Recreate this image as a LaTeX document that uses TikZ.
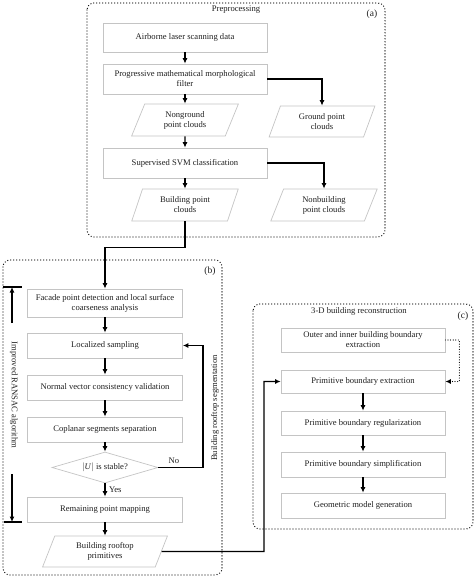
\documentclass[tikz,border=0pt]{standalone}
\usepackage{fontspec}
\setmainfont{Liberation Serif}
\usetikzlibrary{shapes.geometric,arrows.meta}
\definecolor{boxgray}{HTML}{C4C4C4}
\definecolor{txt}{HTML}{1E1E1E}
\begin{document}
\begin{tikzpicture}[x=1pt,y=-1pt,
  font=\fontsize{8.6}{10}\selectfont, text=txt,
  procbox/.style={draw=boxgray, line width=0.7pt, align=center, inner sep=1pt},
  parabox/.style={draw=boxgray, line width=0.7pt, align=center, inner sep=1pt,
     trapezium, trapezium left angle=70, trapezium right angle=110, trapezium stretches=true},
  decbox/.style={draw=boxgray, line width=0.7pt, diamond, inner sep=0pt, aspect=3.4},
  conn/.style={draw=black, line width=1.4pt, -{Latex[length=5.5pt,width=5pt]}},
  plainline/.style={draw=black, line width=1.4pt},
  groupbox/.style={draw=black, line width=1.3pt, line cap=round, dash pattern=on 0pt off 3pt, rounded corners=7pt},
]
\useasboundingbox (0,0) rectangle (474,581);

% ---------- group (a)
\draw[groupbox] (87,3) rectangle (385,237);
\node (ta) at (236,10) {Preprocessing};
\node[font=\fontsize{9.5}{10}\selectfont] (la) at (372,14) {(a)};

\node[procbox, minimum width=164pt, minimum height=29pt] (a1) at (185,37.5) {Airborne laser scanning data};
\node[procbox, minimum width=164pt, minimum height=30pt] (a2) at (185,79) {Progressive mathematical morphological\\filter};
\node[parabox, minimum width=107pt, minimum height=32pt] (a3) at (185,120) {Nonground\\point clouds};
\node[parabox, minimum width=106pt, minimum height=31pt] (a4) at (322,121.5) {Ground point\\clouds};
\node[procbox, minimum width=164pt, minimum height=30pt] (a5) at (185,163) {Supervised SVM classification};
\node[parabox, minimum width=107pt, minimum height=32pt] (a6) at (185,205) {Building point\\clouds};
\node[parabox, minimum width=107pt, minimum height=32pt] (a7) at (324,205) {Nonbuilding\\point clouds};

\draw[conn] (a1) -- (a2);
\draw[conn] (a2) -- (a3);
\draw[conn] (a3) -- (a5);
\draw[conn] (a5) -- (a6);
\draw[conn] (a2.east) -| (a4.north);
\draw[conn] (a5.east) -| (a7.north);

% ---------- group (b)
\draw[groupbox] (3,260) rectangle (222,575);
\node[font=\fontsize{9.5}{10}\selectfont] (lb) at (210,271) {(b)};

\node[procbox, minimum width=155pt, minimum height=28pt] (b1) at (105,303) {Facade point detection and local surface\\coarseness analysis};
\node[procbox, minimum width=155pt, minimum height=25pt] (b2) at (105,345.5) {Localized sampling};
\node[procbox, minimum width=155pt, minimum height=25pt] (b3) at (105,387.5) {Normal vector consistency validation};
\node[procbox, minimum width=155pt, minimum height=25pt] (b4) at (105,429.5) {Coplanar segments separation};
\node[decbox, minimum width=106pt, minimum height=31pt] (b5) at (105,467.5) {$|$\textit{U}$|$ is stable?};
\node[procbox, minimum width=155pt, minimum height=25pt] (b6) at (105,509.5) {Remaining point mapping};
\node[parabox, minimum width=125pt, minimum height=31pt] (b7) at (105,551.5) {Building rooftop\\primitives};

\draw[conn] (a6.south) -- ++(0,26) -| (b1.north);
\draw[conn] (b1) -- (b2);
\draw[conn] (b2) -- (b3);
\draw[conn] (b3) -- (b4);
\draw[conn] (b4) -- (b5);
\draw[conn] (b5) -- node[right, pos=0.45] (yes) {Yes} (b6);
\draw[conn] (b6) -- (b7);
\coordinate (noturn) at (203,467.5);
\draw[conn] (b5.east) -- node[above, pos=0.35] (no) {No} (noturn) |- (b2.east);

% side annotations of (b)
\coordinate (rtop) at (12,287);
\coordinate (rtopfrom) at (12,323);
\coordinate (rbot) at (12,522);
\coordinate (rbotfrom) at (12,474);
\draw[plainline] (3,287) -- (22,287);
\draw[plainline] (4,522) -- (22,522);
\draw[conn] (rtopfrom) -- (rtop);
\draw[conn] (rbotfrom) -- (rbot);
\node[rotate=-90] (ransac) at (14,395) {Improved RANSAC algorithm};
\node[rotate=90] (seg) at (215,408) {Building rooftop segmentation};

% ---------- group (c)
\draw[groupbox] (253,304) rectangle (473,529);
\node (tc) at (359,311) {3-D building reconstruction};
\node[font=\fontsize{9.5}{10}\selectfont] (lc) at (463,316) {(c)};

\node[procbox, minimum width=164pt, minimum height=24pt] (c1) at (363,340) {Outer and inner building boundary\\extraction};
\node[procbox, minimum width=164pt, minimum height=23pt] (c2) at (363,381.5) {Primitive boundary extraction};
\node[procbox, minimum width=164pt, minimum height=24pt] (c3) at (363,423) {Primitive boundary regularization};
\node[procbox, minimum width=164pt, minimum height=25pt] (c4) at (363,464.5) {Primitive boundary simplification};
\node[procbox, minimum width=164pt, minimum height=25pt] (c5) at (363,505.5) {Geometric model generation};

\draw[conn] (c2) -- (c3);
\draw[conn] (c3) -- (c4);
\draw[conn] (c4) -- (c5);
\draw[conn, line width=1.2pt, dash pattern=on 0pt off 2.6pt, line cap=round] (c1.east) -- ++(14,0) |- (c2.east);

\coordinate (bturn) at (264,551.5);
\draw[conn] (b7.east) -- (bturn) |- (c2.west);
\end{tikzpicture}
\end{document}
